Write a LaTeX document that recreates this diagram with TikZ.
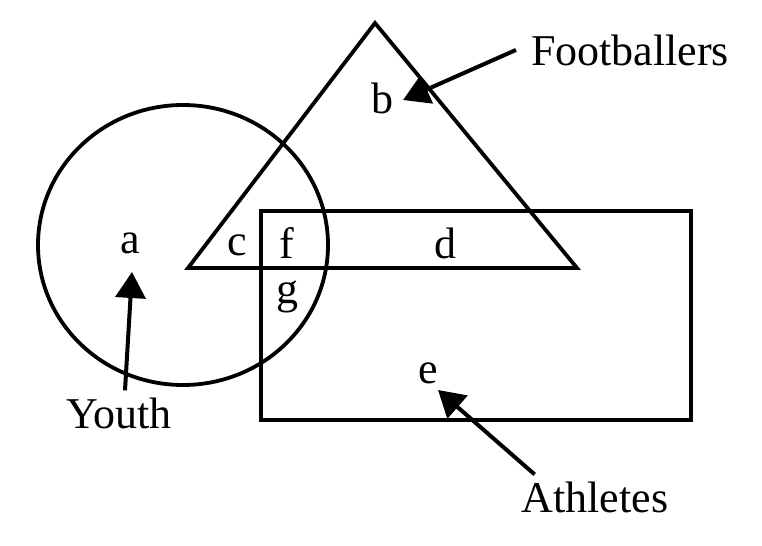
\documentclass[tikz,border=0pt]{standalone}
\usepackage{fontspec}
\setmainfont{Liberation Serif}
\usetikzlibrary{positioning, arrows.meta}

\tikzset{
    setline/.style = {line width=1.9pt},
    region/.style  = {anchor=base, font=\fontsize{22}{26}\selectfont},
    setname/.style = {anchor=base, font=\fontsize{22}{26}\selectfont},
    pointer/.style = {line width=2pt, -{Triangle[length=13pt, width=15pt]}}
}

\begin{document}
\begin{tikzpicture}[x=0.5pt, y=-0.5pt]
        \useasboundingbox (0,0) rectangle (762,546);

        % the three sets
        \draw[setline] (183,245) circle[x radius=72.5pt, y radius=70pt];
        \draw[setline] (375,23) -- (577,268) -- (188,268) -- cycle;
        \draw[setline] (261,211) rectangle (691,420);

        % regions
        \node[region] (a) at (130,253) {a};
        \node[region] (b) at (382,113) {b};
        \node[region] (c) at (237,255) {c};
        \node[region] (f) at (287,258) {f};
        \node[region] (d) at (445,258) {d};
        \node[region] (g) at (287,303) {g};
        \node[region] (e) at (428,383) {e};

        % set names
        \node[setname] (foot) at (630,65) {Footballers};
        \node[setname] (youth) at (119,428) {Youth};
        \node[setname] (ath) at (595,512) {Athletes};

        \coordinate (tipB) at (403,100);
        \coordinate (tipA) at (132,272);
        \coordinate (tipE) at (438,390);

        \draw[pointer] ([xshift=-4pt]foot.west) -- (tipB);
        \draw[pointer] ([xshift=3pt]youth.north) -- (tipA);
        \draw[pointer] ([xshift=10pt]ath.north west) -- (tipE);
    \end{tikzpicture}
\end{document}
